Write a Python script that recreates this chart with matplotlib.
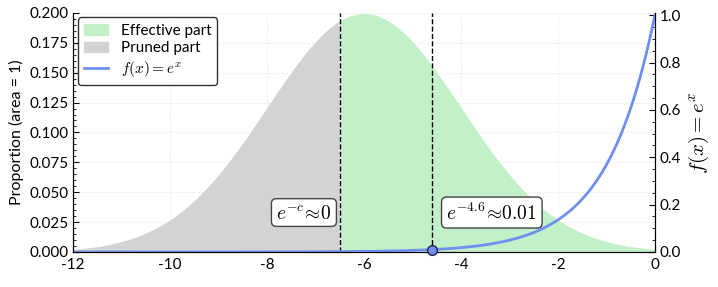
import numpy as np
import matplotlib.pyplot as plt
from matplotlib.patches import Patch
from matplotlib.lines import Line2D
from matplotlib.ticker import MultipleLocator

plt.rcParams['font.family'] = ['Lato', 'DejaVu Sans']
plt.rcParams['mathtext.fontset'] = 'cm'
plt.rcParams['axes.unicode_minus'] = False

# distribution of x and the two cut points
x_range = [-12, 0]
mu = -6.0
sigma = 2.0
prune_cut = -6.5
keep_cut = -4.6
labels = ['Effective part', 'Pruned part', r'$f(x) = e^x$']
notes = [r'$e^{-c}\!\approx\!0$', r'$e^{-4.6}\!\approx\!0.01$']

green = '#c2f0c8'
gray = '#d3d3d3'
blue = '#6f8ff0'

x = np.linspace(x_range[0], x_range[1], 600)
pdf = np.exp(-0.5 * ((x - mu) / sigma) ** 2) / (sigma * np.sqrt(2 * np.pi))
fx = np.exp(x)

fig = plt.figure(figsize=(7.18, 2.87), dpi=100)
ax = fig.add_axes([0.102, 0.122, 0.81, 0.833])
ax2 = ax.twinx()

ax.fill_between(x, 0, pdf, where=x <= prune_cut, color=gray, lw=0)
ax.fill_between(x, 0, pdf, where=x >= prune_cut, color=green, lw=0)
ax.axvline(prune_cut, color='k', ls='--', lw=1)
ax.axvline(keep_cut, color='k', ls='--', lw=1)

ax2.plot(x, fx, color=blue, lw=2)
ax2.plot([keep_cut], [np.exp(keep_cut)], 'o', ms=7, mfc=blue, mec='#222244',
         mew=1, clip_on=False, zorder=5)

ax.set_xlim(*x_range)
ax.set_ylim(0, 0.2)
ax2.set_ylim(0, 1.01)
ax2.set_yticks([0, 0.2, 0.4, 0.6, 0.8, 1.0])

ax.xaxis.set_major_locator(MultipleLocator(2))
ax.xaxis.set_minor_locator(MultipleLocator(0.5))
ax.yaxis.set_major_locator(MultipleLocator(0.025))
ax.yaxis.set_minor_locator(MultipleLocator(0.005))
ax2.yaxis.set_minor_locator(MultipleLocator(0.05))

for a in (ax, ax2):
    a.spines['top'].set_visible(False)
    a.tick_params(which='both', direction='in', labelsize=11)
    a.tick_params(which='major', length=4)
    a.tick_params(which='minor', length=2)
ax.tick_params(axis='y', right=False)
ax.tick_params(axis='x', pad=4)
for lab in ax.get_yticklabels():
    lab.set_va('center_baseline')

ax.grid(True, color='#ededed', ls='--', lw=0.6)
ax.set_axisbelow(True)

ax.set_ylabel('Proportion (area = 1)', fontsize=11.5)
ax2.set_ylabel(r'$f(x) = e^x$', fontsize=15)

box = dict(boxstyle='round,pad=0.25', fc='white', ec='#444444', lw=1)
ax.text(prune_cut - 0.17, 0.033, notes[0], ha='right', va='center',
        fontsize=14, bbox=box)
ax.text(keep_cut + 0.3, 0.033, notes[1], ha='left', va='center',
        fontsize=14, bbox=box)

handles = [Patch(color=green), Patch(color=gray), Line2D([], [], color=blue, lw=2)]
leg = ax.legend(handles, labels, loc='upper left', fontsize=11,
                frameon=True, fancybox=True, borderaxespad=0.3,
                handlelength=1.6, handletextpad=0.8, labelspacing=0.25)
leg.get_frame().set_edgecolor('#333333')
leg.get_frame().set_alpha(1)

fig.savefig('out.png', dpi=100)
